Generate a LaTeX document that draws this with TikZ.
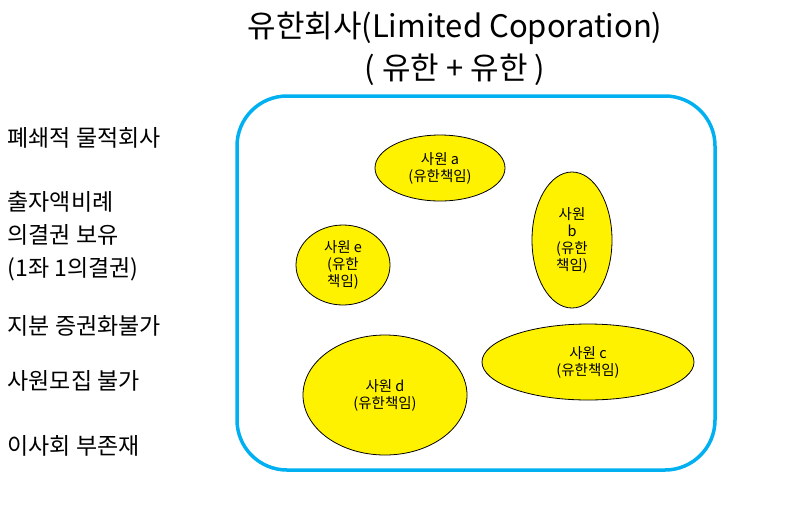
\documentclass[tikz,border=0pt]{standalone}
\usepackage{fontspec}
\setmainfont{Noto Sans CJK KR}
\definecolor{frame}{RGB}{0,176,240}
\begin{document}
\begin{tikzpicture}[x=1pt,y=-1pt,
  member/.style={draw=black,fill=yellow,line width=0.8pt},
  mtext/.style={align=center,font=\fontsize{14.5}{17}\selectfont},
  side/.style={anchor=west,align=left,font=\fontsize{23}{33}\selectfont}]
\useasboundingbox (0,0) rectangle (800,507);
\node (t1) at (455,28) {\fontsize{31}{36}\selectfont 유한회사(Limited Coporation)};
\node (t2) at (455,70) {\fontsize{31}{36}\selectfont ( 유한 + 유한 )};
\draw[frame,line width=3.5pt,rounded corners=50pt] (237,96) rectangle (715,470);
\draw[member] (440,168) ellipse [x radius=65,y radius=33];
\node[mtext] (a) at (440,168) {사원 a\\(유한책임)};
\draw[member] (572,240) ellipse [x radius=40,y radius=68];
\node[mtext] (b) at (572,240) {사원\\b\\(유한\\책임)};
\draw[member] (343,265) ellipse [x radius=47,y radius=40];
\node[mtext] (e) at (343,265) {사원 e\\(유한\\책임)};
\draw[member] (385,395) ellipse [x radius=82,y radius=60];
\node[mtext] (d) at (385,395) {사원 d\\(유한책임)};
\draw[member] (588,362) ellipse [x radius=106,y radius=38];
\node[mtext] (c) at (588,362) {사원 c\\(유한책임)};
\node[side] (l1) at (4,138) {폐쇄적 물적회사};
\node[side] (l2) at (4,236) {출자액비례\\의결권 보유\\(1좌 1의결권)};
\node[side] (l3) at (4,326) {지분 증권화불가};
\node[side] (l4) at (4,381) {사원모집 불가};
\node[side] (l5) at (4,446) {이사회 부존재};
\end{tikzpicture}
\end{document}
